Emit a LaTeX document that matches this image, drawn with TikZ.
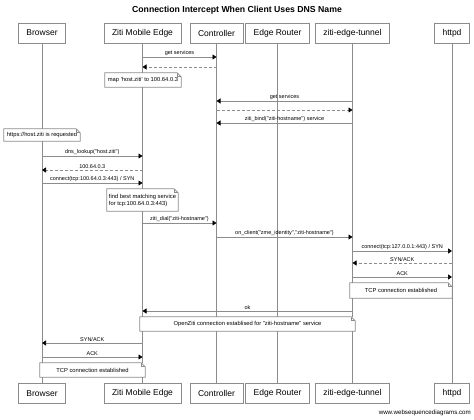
\documentclass[tikz,border=0pt]{standalone}
\usepackage{fontspec}
\newfontfamily\wsd{Liberation Sans}
\usetikzlibrary{arrows.meta}
\definecolor{wsdgray}{gray}{0.55}
\newcommand{\dogear}[1]{%
  \draw[wsdgray, line width=0.7pt] (#1.south west) -- (#1.north west) -- ([xshift=-4pt]#1.north east)
        -- ([yshift=-4pt]#1.north east) -- (#1.south east) -- cycle;
  \draw[wsdgray, line width=0.7pt] ([xshift=-4pt]#1.north east) |- ([yshift=-4pt]#1.north east);}

\begin{document}
\begin{tikzpicture}
                \tikzset{x=1pt, y=-1pt}
                \tikzstyle{actor}=[rectangle, draw=wsdgray, line width=0.8pt, fill=white, minimum height=20pt, inner xsep=8pt, font=\wsd\fontsize{8.5}{10}\selectfont]
                \tikzstyle{life}=[wsdgray, line width=0.8pt]
                \tikzstyle{msg}=[wsdgray, line width=0.7pt, -{Triangle[length=4pt, width=5pt, color=black]}]
                \tikzstyle{reply}=[msg, dash pattern=on 3pt off 2pt]
                \tikzstyle{lbl}=[midway, above, inner sep=1.5pt, text=black, font=\wsd\fontsize{5.5}{6}\selectfont]
                \tikzstyle{note}=[rectangle, fill=white, inner sep=1pt, font=\wsd\fontsize{5.8}{7}\selectfont]

                \useasboundingbox (0, 0) rectangle (474, 420);

                \draw (237, 10)     node[font=\wsd\bfseries\fontsize{8.7}{10}\selectfont] (title) {Connection Intercept When Client Uses DNS Name};

                % participants, top and bottom
                \draw (42, 33)      node[actor] (browser)   {Browser};
                \draw (142.5, 33)   node[actor] (zme)       {Ziti Mobile Edge};
                \draw (216.5, 33)   node[actor] (ctrl)      {Controller};
                \draw (277.5, 33)   node[actor] (router)    {Edge Router};
                \draw (352.5, 33)   node[actor] (tunnel)    {ziti-edge-tunnel};
                \draw (452, 33)     node[actor] (httpd)     {httpd};

                \draw (42, 393.5)   node[actor] (browser2)  {Browser};
                \draw (142.5, 393.5) node[actor] (zme2)     {Ziti Mobile Edge};
                \draw (216.5, 393.5) node[actor] (ctrl2)    {Controller};
                \draw (277.5, 393.5) node[actor] (router2)  {Edge Router};
                \draw (352.5, 393.5) node[actor] (tunnel2)  {ziti-edge-tunnel};
                \draw (452, 393.5)  node[actor] (httpd2)    {httpd};

                \draw [life]        (browser) -- (browser2);
                \draw [life]        (zme) -- (zme2);
                \draw [life]        (ctrl) -- (ctrl2);
                \draw [life]        (router) -- (router2);
                \draw [life]        (tunnel) -- (tunnel2);
                \draw [life]        (httpd) -- (httpd2);

                % message rows
                \coordinate (r1)  at (0, 57);
                \coordinate (r2)  at (0, 67);
                \coordinate (r3)  at (0, 101);
                \coordinate (r4)  at (0, 110);
                \coordinate (r5)  at (0, 123);
                \coordinate (r6)  at (0, 156);
                \coordinate (r7)  at (0, 170);
                \coordinate (r8)  at (0, 183);
                \coordinate (r9)  at (0, 223);
                \coordinate (r10) at (0, 237);
                \coordinate (r11) at (0, 251);
                \coordinate (r12) at (0, 263);
                \coordinate (r13) at (0, 277);
                \coordinate (r14) at (0, 311);
                \coordinate (r15) at (0, 343);
                \coordinate (r16) at (0, 357);

                \draw [msg]         (zme |- r1) -- (ctrl |- r1)         node[lbl] {get services};
                \draw [reply]       (ctrl |- r2) -- (zme |- r2);
                \draw [msg]         (tunnel |- r3) -- (ctrl |- r3)      node[lbl] {get services};
                \draw [reply]       (ctrl |- r4) -- (tunnel |- r4);
                \draw [msg]         (tunnel |- r5) -- (ctrl |- r5)      node[lbl] {ziti\_bind("ziti-hostname") service};
                \draw [msg]         (browser |- r6) -- (zme |- r6)      node[lbl] {dns\_lookup("host.ziti")};
                \draw [reply]       (zme |- r7) -- (browser |- r7)      node[lbl] {100.64.0.3};
                \draw [msg]         (browser |- r8) -- (zme |- r8)      node[lbl] {connect(tcp:100.64.0.3:443) / SYN};
                \draw [msg]         (zme |- r9) -- (ctrl |- r9)         node[lbl] {ziti\_dial("ziti-hostname")};
                \draw [msg]         (ctrl |- r10) -- (tunnel |- r10)    node[lbl] {on\_client("zme\_identity","ziti-hostname")};
                \draw [msg]         (tunnel |- r11) -- (httpd |- r11)   node[lbl] {connect(tcp:127.0.0.1:443) / SYN};
                \draw [reply]       (httpd |- r12) -- (tunnel |- r12)   node[lbl] {SYN/ACK};
                \draw [msg]         (tunnel |- r13) -- (httpd |- r13)   node[lbl] {ACK};
                \draw [msg]         (tunnel |- r14) -- (zme |- r14)     node[lbl] {ok};
                \draw [msg]         (zme |- r15) -- (browser |- r15)    node[lbl] {SYN/ACK};
                \draw [msg]         (browser |- r16) -- (zme |- r16)    node[lbl] {ACK};

                % notes
                \draw (143, 80)     node[note, minimum width=76pt, minimum height=14pt] (n1) {map 'host.ziti' to 100.64.0.3};
                \dogear{n1}
                \draw (42, 135)     node[note, minimum width=76pt, minimum height=12pt] (n2) {https://host.ziti is requested};
                \dogear{n2}
                \draw (142.5, 200)  node[note, minimum width=71pt, minimum height=22pt, align=left] (n3) {find best matching service\\for tcp:100.64.0.3:443)};
                \dogear{n3}
                \draw (401, 290.5)  node[note, minimum width=102pt, minimum height=15pt] (n4) {TCP connection established};
                \dogear{n4}
                \draw (247.5, 324)  node[note, minimum width=215pt, minimum height=14pt] (n5) {OpenZiti connection establised for "ziti-hostname" service};
                \dogear{n5}
                \draw (92.5, 370)   node[note, minimum width=105pt, minimum height=14pt] (n6) {TCP connection established};
                \dogear{n6}

                \draw (471, 413)    node[anchor=east, inner sep=0pt, font=\wsd\fontsize{6.2}{7}\selectfont] (footer) {www.websequencediagrams.com};
            \end{tikzpicture}
\end{document}
